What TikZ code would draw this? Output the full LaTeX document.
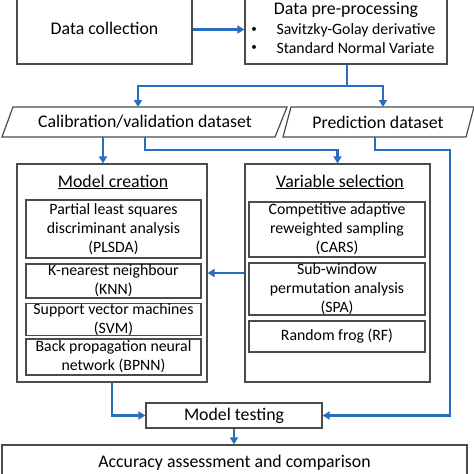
\documentclass[tikz,border=0pt]{standalone}
\usepackage{fontspec}
\setmainfont{Carlito}
\usetikzlibrary{arrows.meta}
\definecolor{flowblue}{RGB}{40,110,190}
\definecolor{boxgray}{RGB}{75,75,75}
\begin{document}
\begin{tikzpicture}[x=1pt,y=-1pt,
  box/.style={draw=boxgray,line width=1.2pt,inner sep=0pt},
  big/.style={font=\fontsize{17.8}{21}\selectfont},
  small/.style={font=\fontsize{15.8}{19}\selectfont,align=center},
  flow/.style={draw=flowblue,line width=2.5pt,-{Triangle[length=7pt,width=8pt]}},
  flowline/.style={draw=flowblue,line width=2.5pt}]
\useasboundingbox (0,0) rectangle (474,474);
% top row
\node[box,minimum width=175pt,minimum height=69pt] (dc) at (104.5,29.5) {};
\node[big] (dct) at (104.5,28) {Data collection};
\node[box,minimum width=202pt,minimum height=69pt] (pp) at (346,29.5) {};
\node[big] (ppt) at (346,10) {Data pre-processing};
\node[small,anchor=west] (b1) at (273,30) {Savitzky-Golay derivative};
\node[small,anchor=west] (b2) at (273,48) {Standard Normal Variate};
\node[font=\fontsize{11}{13}\selectfont] (d1) at (254,30) {\textbullet};
\node[font=\fontsize{11}{13}\selectfont] (d2) at (254,48) {\textbullet};
% datasets
\draw[box] (13,107) -- (287,107) -- (275,137) -- (2,137) -- cycle;
\node[big] (cal) at (145,122) {Calibration/validation dataset};
\draw[box] (291,107) -- (474,107) -- (466,137) -- (283,137) -- cycle;
\node[big] (pred) at (378,122) {Prediction dataset};
\coordinate (calT) at (138,107);
\coordinate (predT) at (383,107);
\coordinate (calB1) at (103,137);
\coordinate (calB2) at (145,137);
\coordinate (predB) at (375,137);
% model creation
\node[box,minimum width=190pt,minimum height=218pt] (mc) at (112,273) {};
\node[big] (mct) at (113,182) {\underline{Model creation}};
\node[box,small,minimum width=175pt,minimum height=58pt] (plsda) at (113.5,229) {Partial least squares\\discriminant analysis\\(PLSDA)};
\node[box,small,minimum width=175pt,minimum height=34pt] (knn) at (113.5,281) {K-nearest neighbour\\(KNN)};
\node[box,small,minimum width=175pt,minimum height=31pt] (svm) at (113.5,319.5) {Support vector machines\\(SVM)};
\node[box,small,minimum width=175pt,minimum height=36pt] (bpnn) at (113.5,357) {Back propagation neural\\network (BPNN)};
% variable selection
\node[box,minimum width=185pt,minimum height=218pt] (vs) at (337.5,273) {};
\node[big] (vst) at (340,182) {\underline{Variable selection}};
\node[box,small,minimum width=176pt,minimum height=55pt] (cars) at (337,229.5) {Competitive adaptive\\reweighted sampling\\(CARS)};
\node[box,small,minimum width=176pt,minimum height=52pt] (spa) at (337,289) {Sub-window\\permutation analysis\\(SPA)};
\node[box,small,minimum width=176pt,minimum height=31pt] (rf) at (337,336.5) {Random frog (RF)};
% testing
\node[box,big,minimum width=176pt,minimum height=25pt] (mt) at (234,415.5) {Model testing};
\node[box,minimum width=465pt,minimum height=40pt] (acc) at (234.5,465) {};
\node[big] (acct) at (234.5,463) {Accuracy assessment and comparison};
% connectors
\draw[flow] (dc.east) -- (pp.west);
\coordinate (split) at (347,86);
\draw[flowline] (pp.south -| split) -- (split);
\draw[flow] (split) -| (calT);
\draw[flow] (split) -| (predT);
\draw[flow] (calB1) -- (calB1 |- mc.north);
\coordinate (c2) at (145,150);
\draw[flow] (calB2) -- (c2) -| (vs.north);
\coordinate (p1) at (375,150);
\coordinate (p2) at (450,150);
\draw[flow] (predB) -- (p1) -- (p2) |- (mt.east);
\draw[flow] (vs.west) -- (mc.east);
\draw[flow] (mc.south) |- (mt.west);
\draw[flow] (mt.south) -- (acc.north -| mt.south);
\end{tikzpicture}
\end{document}
